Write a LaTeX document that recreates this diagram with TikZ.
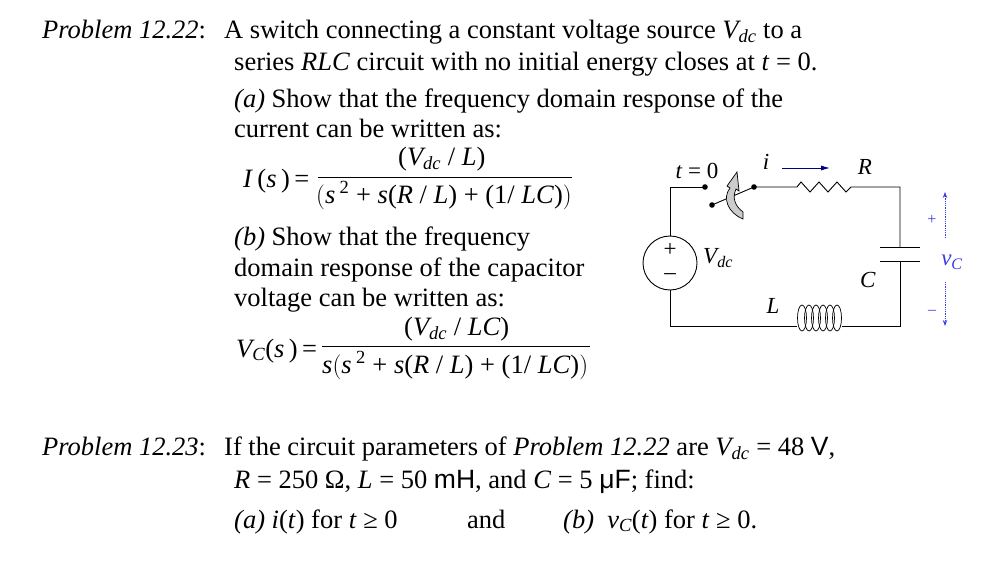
\documentclass[tikz,border=0pt]{standalone}
\usepackage{fontspec}
\setmainfont{Liberation Serif}
\newfontfamily\arial{Liberation Sans}
\usetikzlibrary{arrows.meta}
\newcommand\I[1]{\textit{#1}}
\definecolor{navyc}{RGB}{0,0,128}
\definecolor{vb}{RGB}{60,60,230}
\begin{document}
\begin{tikzpicture}[x=1pt,y=-1pt,font=\fontsize{26.5}{30}\selectfont,
  tx/.style={anchor=base west,inner sep=0},
  wire/.style={line width=0.9pt},
  lbl/.style={inner sep=0,font=\fontsize{23}{26}\selectfont}]
\useasboundingbox (0,0) rectangle (994,570);
% text
\node[tx] (p1) at (42,38) {\I{Problem 12.22}:};
\node[tx] (l1) at (224,38) {A switch connecting a constant voltage source \I{V\textsubscript{dc}} to a};
\node[tx] (l2) at (234,70) {series \I{RLC} circuit with no initial energy closes at \I{t} = 0.};
\node[tx] (l3) at (234,107) {\I{(a)} Show that the frequency domain response of the};
\node[tx] (l4) at (234,137) {current can be written as:};
\node[tx] (is) at (243,187) {\I{I}\,(\I{s}\,)\,=};
\node[tx] (n1) at (398,165) {(\I{V\textsubscript{dc}} / \I{L})};
\draw[wire] (318,177) -- (572,177);
\node[tx] (d1) at (316,203) {$\bigg($\I{s}\,\textsuperscript{2} + \I{s}(\I{R} / \I{L}) + (1/ \I{LC})$\bigg)$};
\node[tx] (l5) at (234,245) {\I{(b)} Show that the frequency};
\node[tx] (l6) at (234,276) {domain response of the capacitor};
\node[tx] (l7) at (234,306) {voltage can be written as:};
\node[tx] (vs) at (236,357) {\I{V\textsubscript{C}}(\I{s}\,)\,=};
\node[tx] (n2) at (404,335) {(\I{V\textsubscript{dc}} / \I{LC})};
\draw[wire] (322,346) -- (590,346);
\node[tx] (d2) at (322,373) {\I{s}$\bigg($\I{s}\,\textsuperscript{2} + \I{s}(\I{R} / \I{L}) + (1/ \I{LC})$\bigg)$};
\node[tx] (p2) at (42,455) {\I{Problem 12.23}:};
\node[tx] (m1) at (224,455) {If the circuit parameters of \I{Problem 12.22} are \I{V\textsubscript{dc}} = 48 {\arial V},};
\node[tx] (m2) at (234,488) {\I{R} = 250 Ω, \I{L} = 50 {\arial mH}, and \I{C} = 5 {\arial μF}; find:};
\node[tx] (m3) at (234,528) {\I{(a) i}(\I{t}) for \I{t} ≥ 0};
\node[tx] (m4) at (467,528) {and};
\node[tx] (m5) at (563,528) {\I{(b)}\ \ \I{v\textsubscript{C}}(\I{t}) for \I{t} ≥ 0.};
% circuit
\node[draw,circle,minimum size=54pt,inner sep=0,line width=0.9pt] (src) at (670,263) {};
\node[lbl] at (670,250) {+};
\node[lbl] at (670,277) {–};
\coordinate (s1) at (705,187);
\coordinate (s0) at (712,205);
\coordinate (s2) at (754,187);
\coordinate (r1) at (797,187);
\coordinate (r2) at (851,187);
\coordinate (tr) at (900,187);
\coordinate (c1) at (900,247);
\coordinate (c2) at (900,261);
\coordinate (br) at (900,326);
\coordinate (l2) at (842,326);
\coordinate (l1) at (797,326);
\coordinate (bl) at (670,326);
\coordinate (tl) at (670,187);
\draw[wire] (src.north) -- (tl) -- (s1);
\draw[wire] (s2) -- (r1) -- ++(4,-5) -- ++(9,10) -- ++(9,-10) -- ++(9,10) -- ++(9,-10) -- ++(9,10) -- (r2) -- (tr) -- (c1);
\draw[wire] (c2) -- (br) -- (l2);
\draw[wire] (l1) -- (bl) -- (src.south);
\draw[wire] (880,247) -- (920,247);
\draw[wire] (880,261) -- (920,261);
\foreach \k in {0,...,5} \draw[line width=0.7pt] (802+\k*7,318) ellipse (4.5 and 13);
\draw[wire] (s0) -- (s2);
\foreach \p in {s1,s0,s2} \fill (\p) circle (2.8);
\draw[fill=gray!40,line width=0.7pt] (743,219) .. controls (728,213) and (722,198) .. (730,188) -- (727,186) -- (737,172) -- (739,191) -- (736,189) .. controls (732,198) and (735,206) .. (743,212) -- cycle;
\node[lbl] (t0) at (697,171) {\I{t} = 0};
\node[lbl] (ii) at (766,162) {\I{i}};
\draw[navyc,-{Latex[length=9pt,width=5pt]},line width=0.9pt] (782,168) -- (830,168);
\node[lbl] (R) at (865,167) {\I{R}};
\node[lbl,anchor=west] (Vdc) at (703,258) {\I{V\textsubscript{dc}}};
\node[lbl] (C) at (868,280) {\I{C}};
\node[lbl] (L) at (773,306) {\I{L}};
\node[lbl,text=vb] (vc) at (952,262) {\I{v\textsubscript{C}}};
\node[lbl,text=vb,font=\fontsize{16}{18}\selectfont] at (932,220) {+};
\node[lbl,text=vb,font=\fontsize{16}{18}\selectfont] at (932,312) {–};
\draw[vb,densely dotted,-{Stealth[length=6pt]},line width=0.8pt] (945,238) -- (945,192);
\draw[vb,densely dotted,-{Stealth[length=6pt]},line width=0.8pt] (945,282) -- (945,326);
\end{tikzpicture}
\end{document}
